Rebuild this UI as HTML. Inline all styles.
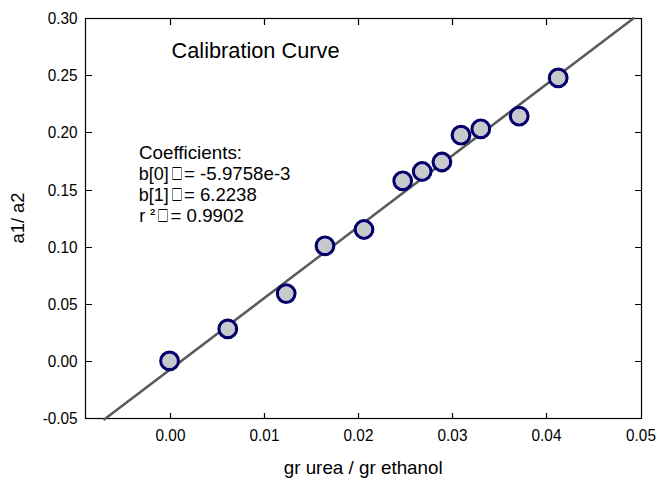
<!DOCTYPE html><html><head><meta charset="utf-8"><style>html,body{margin:0;padding:0;background:#fff;}svg{display:block;}text{font-family:"Liberation Sans",sans-serif;fill:#000;}</style></head><body>
<svg width="660" height="485" viewBox="0 0 660 485">
<rect x="85.5" y="18.5" width="556.0" height="400.0" fill="none" stroke="#000" stroke-width="1.2"/>
<path d="M170.5 418.5V413M170.5 18.5V25M264.5 418.5V413M264.5 18.5V25M358.5 418.5V413M358.5 18.5V25M452.5 418.5V413M452.5 18.5V25M546.5 418.5V413M546.5 18.5V25M85.5 418.5H92M641.5 418.5H635M85.5 361.5H92M641.5 361.5H635M85.5 304.5H92M641.5 304.5H635M85.5 247.5H92M641.5 247.5H635M85.5 190.5H92M641.5 190.5H635M85.5 132.5H92M641.5 132.5H635M85.5 75.5H92M641.5 75.5H635M85.5 18.5H92M641.5 18.5H635" stroke="#000" stroke-width="1.2" fill="none"/>
<line x1="103.5" y1="419.9" x2="634.3" y2="17.7" stroke="#5a5a5a" stroke-width="2.5"/>
<circle cx="169.55" cy="360.9" r="8.8" fill="#c9c9c9" stroke="#050068" stroke-width="3.2"/><circle cx="169.55" cy="360.9" r="6.7" fill="none" stroke="#c4c4e8" stroke-width="1"/>
<circle cx="227.8" cy="328.9" r="8.8" fill="#c9c9c9" stroke="#050068" stroke-width="3.2"/><circle cx="227.8" cy="328.9" r="6.7" fill="none" stroke="#c4c4e8" stroke-width="1"/>
<circle cx="286.2" cy="293.6" r="8.8" fill="#c9c9c9" stroke="#050068" stroke-width="3.2"/><circle cx="286.2" cy="293.6" r="6.7" fill="none" stroke="#c4c4e8" stroke-width="1"/>
<circle cx="325.0" cy="245.8" r="8.8" fill="#c9c9c9" stroke="#050068" stroke-width="3.2"/><circle cx="325.0" cy="245.8" r="6.7" fill="none" stroke="#c4c4e8" stroke-width="1"/>
<circle cx="364.0" cy="229.5" r="8.8" fill="#c9c9c9" stroke="#050068" stroke-width="3.2"/><circle cx="364.0" cy="229.5" r="6.7" fill="none" stroke="#c4c4e8" stroke-width="1"/>
<circle cx="402.7" cy="180.8" r="8.8" fill="#c9c9c9" stroke="#050068" stroke-width="3.2"/><circle cx="402.7" cy="180.8" r="6.7" fill="none" stroke="#c4c4e8" stroke-width="1"/>
<circle cx="422.2" cy="171.5" r="8.8" fill="#c9c9c9" stroke="#050068" stroke-width="3.2"/><circle cx="422.2" cy="171.5" r="6.7" fill="none" stroke="#c4c4e8" stroke-width="1"/>
<circle cx="441.9" cy="162.0" r="8.8" fill="#c9c9c9" stroke="#050068" stroke-width="3.2"/><circle cx="441.9" cy="162.0" r="6.7" fill="none" stroke="#c4c4e8" stroke-width="1"/>
<circle cx="461.0" cy="135.2" r="8.8" fill="#c9c9c9" stroke="#050068" stroke-width="3.2"/><circle cx="461.0" cy="135.2" r="6.7" fill="none" stroke="#c4c4e8" stroke-width="1"/>
<circle cx="480.8" cy="128.8" r="8.8" fill="#c9c9c9" stroke="#050068" stroke-width="3.2"/><circle cx="480.8" cy="128.8" r="6.7" fill="none" stroke="#c4c4e8" stroke-width="1"/>
<circle cx="519.2" cy="116.2" r="8.8" fill="#c9c9c9" stroke="#050068" stroke-width="3.2"/><circle cx="519.2" cy="116.2" r="6.7" fill="none" stroke="#c4c4e8" stroke-width="1"/>
<circle cx="558.2" cy="77.9" r="8.8" fill="#c9c9c9" stroke="#050068" stroke-width="3.2"/><circle cx="558.2" cy="77.9" r="6.7" fill="none" stroke="#c4c4e8" stroke-width="1"/>
<text transform="translate(77.6,423.7) scale(0.96,1.03)" font-size="16" text-anchor="end">-0.05</text>
<text transform="translate(77.6,366.7) scale(0.96,1.03)" font-size="16" text-anchor="end">0.00</text>
<text transform="translate(77.6,309.7) scale(0.96,1.03)" font-size="16" text-anchor="end">0.05</text>
<text transform="translate(77.6,252.7) scale(0.96,1.03)" font-size="16" text-anchor="end">0.10</text>
<text transform="translate(77.6,195.7) scale(0.96,1.03)" font-size="16" text-anchor="end">0.15</text>
<text transform="translate(77.6,137.7) scale(0.96,1.03)" font-size="16" text-anchor="end">0.20</text>
<text transform="translate(77.6,80.7) scale(0.96,1.03)" font-size="16" text-anchor="end">0.25</text>
<text transform="translate(77.6,23.7) scale(0.96,1.03)" font-size="16" text-anchor="end">0.30</text>
<text transform="translate(170.5,440.8) scale(0.96,1.03)" font-size="16" text-anchor="middle">0.00</text>
<text transform="translate(264.5,440.8) scale(0.96,1.03)" font-size="16" text-anchor="middle">0.01</text>
<text transform="translate(358.5,440.8) scale(0.96,1.03)" font-size="16" text-anchor="middle">0.02</text>
<text transform="translate(452.5,440.8) scale(0.96,1.03)" font-size="16" text-anchor="middle">0.03</text>
<text transform="translate(546.5,440.8) scale(0.96,1.03)" font-size="16" text-anchor="middle">0.04</text>
<text transform="translate(641,440.8) scale(0.96,1.03)" font-size="16" text-anchor="middle">0.05</text>
<text transform="translate(171.5,57.6) scale(1.0,1.03)" font-size="22" text-anchor="start" textLength="168" lengthAdjust="spacingAndGlyphs">Calibration Curve</text>
<text transform="translate(139,158.7) scale(1.0,1.03)" font-size="18" text-anchor="start" textLength="103" lengthAdjust="spacingAndGlyphs">Coefficients:</text>
<text transform="translate(138.8,180) scale(1.0,1.03)" font-size="18" text-anchor="start" textLength="30" lengthAdjust="spacingAndGlyphs">b[0]</text>
<path d="M172 167.5H182M172 179.5H182" stroke="#000" stroke-width="1"/><path d="M172.5 167V180M181.5 167V180" stroke="#8a8a8a" stroke-width="1"/>
<text transform="translate(184,180) scale(1.0,1.03)" font-size="18" text-anchor="start" textLength="106.5" lengthAdjust="spacingAndGlyphs">= -5.9758e-3</text>
<text transform="translate(138.8,201) scale(1.0,1.03)" font-size="18" text-anchor="start" textLength="30" lengthAdjust="spacingAndGlyphs">b[1]</text>
<path d="M172 188.5H182M172 200.5H182" stroke="#000" stroke-width="1"/><path d="M172.5 188V201M181.5 188V201" stroke="#8a8a8a" stroke-width="1"/>
<text transform="translate(184,201) scale(1.0,1.03)" font-size="18" text-anchor="start" textLength="72.7" lengthAdjust="spacingAndGlyphs">= 6.2238</text>
<text transform="translate(139.2,221.6) scale(1.0,1.03)" font-size="18" text-anchor="start">r</text>
<text transform="translate(150.3,219.2) scale(1.0,1.0)" font-size="14.5" text-anchor="start" stroke="#000" stroke-width="0.2">²</text>
<path d="M158 209.5H168M158 221.5H168" stroke="#000" stroke-width="1"/><path d="M158.5 209V222M167.5 209V222" stroke="#8a8a8a" stroke-width="1"/>
<text transform="translate(170.5,221.6) scale(1.0,1.03)" font-size="18" text-anchor="start" textLength="73.3" lengthAdjust="spacingAndGlyphs">= 0.9902</text>
<text transform="translate(283.7,474.4) scale(1.0,1.04)" font-size="18" text-anchor="start" textLength="159" lengthAdjust="spacingAndGlyphs">gr urea / gr ethanol</text>
<text transform="translate(23.9,243.5) rotate(-90)" font-size="17.5" textLength="51" lengthAdjust="spacingAndGlyphs" >a1/ a2</text>
</svg></body></html>
